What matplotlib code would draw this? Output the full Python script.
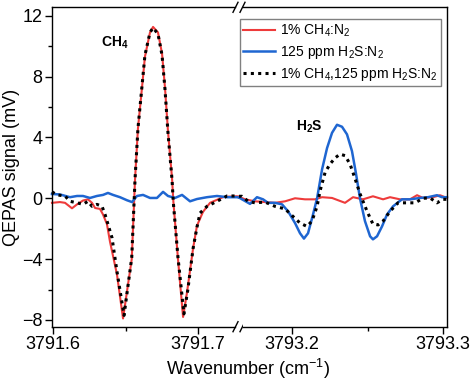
import matplotlib
matplotlib.use("Agg")
import matplotlib.pyplot as plt
from matplotlib.ticker import MultipleLocator

plt.rcParams["font.family"] = ["Liberation Sans", "DejaVu Sans"]
plt.rcParams["mathtext.fontset"] = "custom"
plt.rcParams["mathtext.rm"] = "Liberation Sans"
plt.rcParams["mathtext.it"] = "Liberation Sans:italic"
plt.rcParams["mathtext.bf"] = "Liberation Sans:bold"

# ---- data (wavenumber in cm-1, signal in mV) ----
# left segment, around the CH4 line
ch4_l_x = [3791.5993, 3791.6048, 3791.6083, 3791.6131, 3791.6166, 3791.6207, 3791.6241,
           3791.6269, 3791.6290, 3791.6324, 3791.6345, 3791.6372, 3791.6393, 3791.6441,
           3791.6483, 3791.6543, 3791.6566, 3791.6586, 3791.6614, 3791.6634, 3791.6669,
           3791.6690, 3791.6724, 3791.6752, 3791.6772, 3791.6793, 3791.6821, 3791.6830,
           3791.6862, 3791.6897, 3791.6924, 3791.6966, 3791.6993, 3791.7034, 3791.7083,
           3791.7131, 3791.7172, 3791.7200, 3791.7269, 3791.7283]
ch4_l_y = [-0.3, -0.25, -0.3, -0.66, -0.4, -0.15, -0.07,
           -0.3, -0.64, -0.7, -1.07, -1.7, -2.85, -5.0,
           -7.9, -4.0, 1.3, 4.6, 7.3, 9.3, 10.9,
           11.26, 10.9, 9.5, 7.3, 4.4, 1.3, -0.2,
           -4.0, -7.8, -6.2, -3.3, -1.8, -0.9, -0.3,
           -0.1, 0.07, 0.1, 0.13, 0.1]

h2s_l_x = [3791.5993, 3791.6048, 3791.6117, 3791.6166, 3791.6207, 3791.6255, 3791.6303,
           3791.6345, 3791.6379, 3791.6414, 3791.6462, 3791.6510, 3791.6545, 3791.6579,
           3791.6621, 3791.6669, 3791.6717, 3791.6759, 3791.6793, 3791.6841, 3791.6890,
           3791.6945, 3791.6993, 3791.7062, 3791.7131, 3791.7200, 3791.7269, 3791.7283]
h2s_l_y = [0.28, 0.25, 0.07, 0.15, 0.15, 0.02, 0.15,
           0.22, 0.35, 0.22, 0.07, -0.13, -0.25, 0.15,
           0.22, 0.02, 0.02, 0.42, 0.15, 0.02, 0.22,
           -0.2, -0.05, 0.07, 0.15, 0.07, 0.07, 0.05]

mix_l_x = [3791.5993, 3791.6028, 3791.6083, 3791.6117, 3791.6166, 3791.6207, 3791.6241,
           3791.6269, 3791.6303, 3791.6338, 3791.6359, 3791.6379, 3791.6407, 3791.6441,
           3791.6490, 3791.6543, 3791.6566, 3791.6586, 3791.6614, 3791.6634, 3791.6669,
           3791.6690, 3791.6724, 3791.6752, 3791.6772, 3791.6793, 3791.6821, 3791.6830,
           3791.6862, 3791.6903, 3791.6930, 3791.6966, 3791.6993, 3791.7014, 3791.7062,
           3791.7131, 3791.7200, 3791.7269, 3791.7283]
mix_l_y = [0.42, 0.22, 0.15, -0.2, -0.3, -0.4, -0.2,
           -0.53, -0.4, -0.53, -1.07, -1.7, -2.6, -4.8,
           -7.7, -3.9, 1.3, 4.6, 7.4, 9.4, 10.9,
           11.2, 10.8, 9.4, 7.2, 4.3, 1.2, -0.3,
           -3.9, -7.6, -6.0, -3.3, -1.9, -0.97, -0.53,
           -0.2, 0.15, 0.15, 0.1]

# right segment, around the H2S line
ch4_r_x = [3793.1649, 3793.1689, 3793.1755, 3793.1821, 3793.1887, 3793.1954, 3793.2020,
           3793.2086, 3793.2152, 3793.2199, 3793.2265, 3793.2305, 3793.2351, 3793.2404,
           3793.2470, 3793.2536, 3793.2603, 3793.2649, 3793.2715, 3793.2781, 3793.2828,
           3793.2868, 3793.2934, 3793.2980, 3793.3026]
ch4_r_y = [0.1, -0.07, -0.2, -0.25, -0.3, -0.2, 0.0,
           -0.07, -0.07, 0.07, 0.02, -0.13, -0.3, 0.07,
           -0.07, 0.13, -0.07, 0.07, -0.07, -0.07, 0.2,
           0.02, 0.07, 0.2, 0.02]

h2s_r_x = [3793.1649, 3793.1669, 3793.1722, 3793.1768, 3793.1808, 3793.1841, 3793.1887,
           3793.1934, 3793.1974, 3793.2020, 3793.2053, 3793.2079, 3793.2106, 3793.2139,
           3793.2166, 3793.2199, 3793.2232, 3793.2265, 3793.2298, 3793.2331, 3793.2364,
           3793.2397, 3793.2424, 3793.2450, 3793.2483, 3793.2517, 3793.2536, 3793.2563,
           3793.2596, 3793.2629, 3793.2669, 3793.2728, 3793.2781, 3793.2848, 3793.2901,
           3793.2960, 3793.2993, 3793.3026]
h2s_r_y = [0.05, -0.07, -0.37, 0.07, -0.07, -0.3, -0.3,
           -0.4, -0.86, -1.63, -2.3, -2.65, -2.3, -1.07,
           0.0, 1.9, 3.3, 4.3, 4.83, 4.7, 4.2,
           3.1, 1.6, 0.0, -1.5, -2.5, -2.7, -2.5,
           -1.85, -1.07, -0.53, -0.07, -0.07, 0.02, 0.07,
           0.2, 0.07, 0.07]

mix_r_x = [3793.1649, 3793.1669, 3793.1709, 3793.1755, 3793.1821, 3793.1887, 3793.1954,
           3793.2007, 3793.2053, 3793.2099, 3793.2132, 3793.2166, 3793.2185, 3793.2219,
           3793.2252, 3793.2285, 3793.2318, 3793.2351, 3793.2384, 3793.2417, 3793.2450,
           3793.2497, 3793.2536, 3793.2570, 3793.2603, 3793.2649, 3793.2702, 3793.2762,
           3793.2815, 3793.2868, 3793.2914, 3793.2960, 3793.3000, 3793.3026]
mix_r_y = [0.13, 0.13, -0.2, -0.3, -0.25, -0.53, -0.7,
           -1.2, -1.63, -1.85, -1.5, -0.53, 0.46, 1.7,
           2.25, 2.65, 2.9, 2.8, 2.25, 1.3, 0.3,
           -0.86, -1.7, -1.75, -1.5, -0.86, -0.3, -0.3,
           -0.3, 0.0, 0.02, -0.3, -0.07, -0.07]

labels = ["1% CH$_4$:N$_2$", "125 ppm H$_2$S:N$_2$", "1% CH$_4$,125 ppm H$_2$S:N$_2$"]

red = "#ee3b3b"
blue = "#1f66d1"
dots = (0, (1, 1.4))

fig = plt.figure(figsize=(4.74, 3.82), dpi=100)
ax_l = fig.add_axes([0.1097, 0.1448, 0.3861, 0.8361])
ax_r = fig.add_axes([0.5127, 0.1448, 0.4304, 0.8361], sharey=ax_l)

for ax, xs, ys in [(ax_l, (ch4_l_x, h2s_l_x, mix_l_x), (ch4_l_y, h2s_l_y, mix_l_y)),
                   (ax_r, (ch4_r_x, h2s_r_x, mix_r_x), (ch4_r_y, h2s_r_y, mix_r_y))]:
    ax.plot(xs[0], ys[0], color=red, lw=1.5, clip_on=False, label=labels[0])
    ax.plot(xs[1], ys[1], color=blue, lw=1.8, clip_on=False, label=labels[1])
    ax.plot(xs[2], ys[2], color="black", lw=2.2, ls=dots, clip_on=False, label=labels[2])
    ax.tick_params(which="major", direction="out", length=5, width=1, labelsize=13, pad=2)
    ax.tick_params(which="minor", direction="out", length=3, width=1)
    for s in ax.spines.values():
        s.set_linewidth(1)

ax_l.set_xlim(3791.59931, 3791.72552)
ax_r.set_xlim(3793.16755, 3793.30265)
ax_l.set_ylim(-8.44, 12.55)

ax_l.set_xticks([3791.6, 3791.7])
ax_l.set_xticklabels(["3791.6", "3791.7"])
ax_l.xaxis.set_minor_locator(MultipleLocator(0.05))
ax_r.set_xticks([3793.2, 3793.3])
ax_r.set_xticklabels(["3793.2", "3793.3"])
ax_r.xaxis.set_minor_locator(MultipleLocator(0.05))
ax_l.set_yticks([-8, -4, 0, 4, 8, 12])
ax_l.yaxis.set_minor_locator(MultipleLocator(2))

ax_l.spines["right"].set_visible(False)
ax_r.spines["left"].set_visible(False)
ax_r.tick_params(which="both", left=False, labelleft=False)

ax_l.set_ylabel("QEPAS signal (mV)", fontsize=13, labelpad=1)
fig.text(248 / 474, 1 - 369 / 382, "Wavenumber (cm$^{-1}$)", fontsize=13,
         ha="center", va="center")

ax_l.text(3791.6428, 10.2, "CH$_\\mathbf{4}$", fontsize=10, fontweight="bold",
          ha="center", va="center")
ax_r.text(3793.2113, 4.7, "H$_\\mathbf{2}$S", fontsize=10, fontweight="bold",
          ha="center", va="center")

# axis break marks
for y in (0, 1):
    for a, b in [(0.989, 1.0164), (1.0273, 1.0546)]:
        ax_l.plot([a, b], [y - 0.0157, y + 0.0157], transform=ax_l.transAxes,
                  color="black", lw=1, clip_on=False)

handles, _ = ax_l.get_legend_handles_labels()
leg = fig.legend(handles, labels, loc="upper left", bbox_to_anchor=(240 / 474, 1 - 19 / 382),
                 borderaxespad=0, fontsize=10, frameon=True, fancybox=False,
                 framealpha=1, edgecolor="#808080", handlelength=2.3,
                 handletextpad=0.3, labelspacing=0.35, borderpad=0.25)
leg.get_frame().set_linewidth(1)

fig.savefig("out.png", dpi=100)
